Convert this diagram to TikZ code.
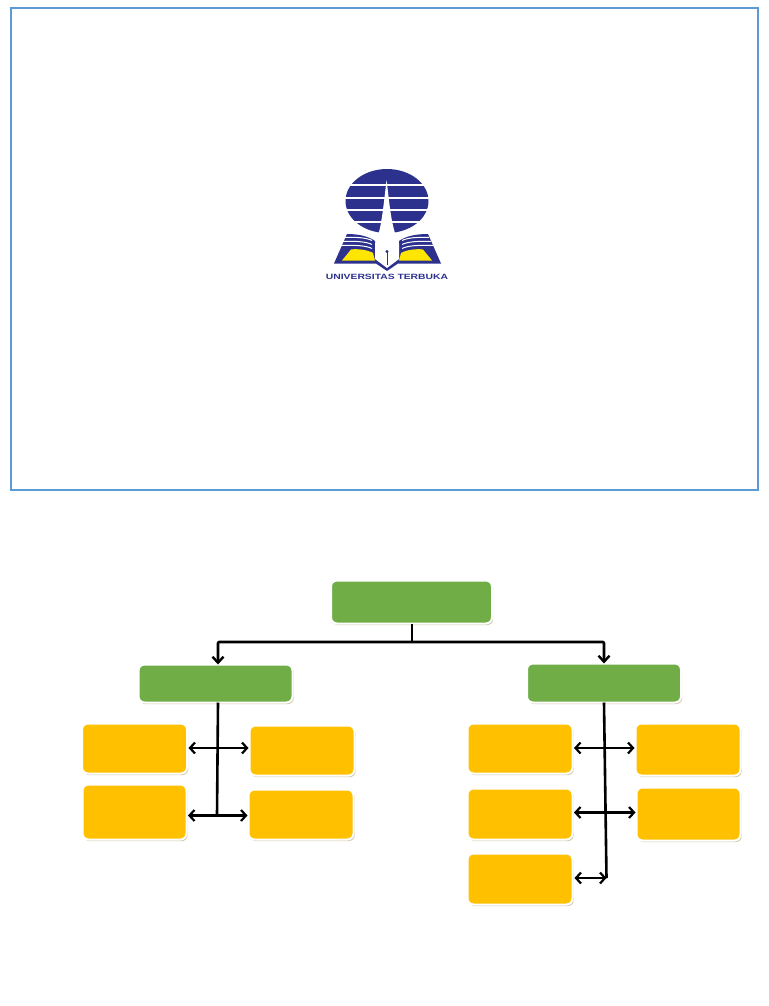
\documentclass[tikz,border=0pt]{standalone}
\usepackage{fontspec}
\newfontfamily\logofont[FakeStretch=1.36]{Liberation Sans}
\usetikzlibrary{arrows.meta,shadows}
\definecolor{framecol}{HTML}{5B9BD5}
\definecolor{greenbox}{HTML}{70AD47}
\definecolor{yellowbox}{HTML}{FFC000}
\definecolor{shadowcol}{HTML}{CFC6A8}
\definecolor{logoblue}{HTML}{2B318C}
\definecolor{logoyellow}{HTML}{FFE600}
\tikzset{
  x=1pt,y=-1pt,
  box/.style={draw=white,line width=2pt,rounded corners=6pt,inner sep=0pt,outer sep=0pt,
    drop shadow={shadow xshift=1.2pt,shadow yshift=-1.6pt,fill=shadowcol,opacity=1}},
  gbox/.style={box,fill=greenbox},
  ybox/.style={box,fill=yellowbox},
  conn/.style={line width=2.6pt,black,line join=round},
  arr/.style={conn,-{Straight Barb[length=6pt,width=11pt,line width=2.4pt]}},
  darr/.style={line width=2.4pt,black,{Straight Barb[length=5pt,width=11pt,line width=2.2pt]}-{Straight Barb[length=5pt,width=11pt,line width=2.2pt]}},
  stripe/.style={fill=white,draw=none},
}
\begin{document}
\begin{tikzpicture}
\useasboundingbox (0,0) rectangle (768,1006);
\draw[framecol,line width=1.8pt] (11,8) rectangle (758,490);

% logo
\begin{scope}
\clip (330,160) rectangle (445,234);
\fill[logoblue] (387,201) ellipse [x radius=41.5,y radius=32];
\foreach \yy in {185.3,197.6,210,222.3}{\fill[stripe] (340,\yy-0.9) rectangle (435,\yy+0.9);}
\end{scope}
\fill[white] (386.6,180) .. controls (383.5,205) and (382,222) .. (378,236) -- (396,236) .. controls (391,222) and (389.5,205) .. (386.6,180) -- cycle;
% book
\fill[logoblue] (347,234) .. controls (358,234) and (368,236) .. (375,241) -- (375,257) -- (385,262) -- (389,262) -- (399,257) -- (399,241) .. controls (406,236) and (416,234) .. (428,234) -- (441,263.5) -- (398,263.5) -- (387,271) -- (376,263.5) -- (334,263.5) -- cycle;
\fill[white] (378,237) -- (396,237) -- (399,244) -- (399,259) -- (387,268) -- (375,259) -- (375,244) -- cycle;
\draw[logoblue,line width=.9pt] (387,252) -- (387,265);
\fill[logoblue] (387,251.5) circle (1.6);
\foreach \ya/\xa/\xb in {237.5/345/372,241.5/343/372,245.5/341/372}{
  \draw[white,line width=1pt] (\xa,\ya) .. controls (355,\ya-.5) and (366,\ya) .. (\xb,\ya+3);
  \draw[white,line width=1pt] (774-\xa,\ya) .. controls (419,\ya-.5) and (408,\ya) .. (774-\xb,\ya+3);
}
\fill[logoyellow] (342,260.5) -- (351,249.5) .. controls (358,248.5) and (368,250) .. (373,253) -- (375,260.5) -- cycle;
\fill[logoyellow] (432,260.5) -- (423,249.5) .. controls (416,248.5) and (406,250) .. (401,253) -- (399,260.5) -- cycle;
\node[inner sep=0pt,text=logoblue] (logotext) at (387,276.5) {\logofont\fontsize{7.6pt}{8pt}\selectfont\bfseries UNIVERSITAS TERBUKA};

% boxes
\node[gbox,minimum width=161pt,minimum height=43pt] (top) at (411.5,602) {};
\node[gbox,minimum width=154pt,minimum height=38pt] (lg) at (215.5,683.5) {};
\node[gbox,minimum width=154pt,minimum height=39pt] (rg) at (604,683) {};
\node[ybox,minimum width=105pt,minimum height=50pt] (l1) at (134.5,748.5) {};
\node[ybox,minimum width=105pt,minimum height=50pt] (l2) at (302,750.5) {};
\node[ybox,minimum width=104pt,minimum height=55pt] (l3) at (134.5,812) {};
\node[ybox,minimum width=105pt,minimum height=50pt] (l4) at (301,814.5) {};
\node[ybox,minimum width=105pt,minimum height=50pt] (r1) at (520,748.5) {};
\node[ybox,minimum width=105pt,minimum height=52pt] (r2) at (688,749.5) {};
\node[ybox,minimum width=105pt,minimum height=51pt] (r3) at (520,814) {};
\node[ybox,minimum width=104pt,minimum height=53pt] (r4) at (688.5,814) {};
\node[ybox,minimum width=105pt,minimum height=51pt] (r5) at (520,879) {};

% coordinates
\coordinate (hj) at (412,642);
\coordinate (la) at (218,642);
\coordinate (ra) at (604,642);
\coordinate (lj1) at (217.5,748);
\coordinate (lj2) at (217,815.5);
\coordinate (rj1) at (605,748);
\coordinate (rj2) at (605.5,812.5);
\coordinate (rj3) at (606.5,878);

% connectors
\draw[conn] (top.south -| hj) -- (hj);
\draw[arr,rounded corners=1pt] (hj) -- (la) -- (la |- lg.north);
\draw[arr,rounded corners=1pt] (hj) -- (ra) -- (ra |- rg.north);
\draw[conn] (la |- lg.south) -- (lj2);
\draw[conn] (ra |- rg.south) -- (rj3);
\draw[darr] ([xshift=1.5pt]l1.east |- lj1) -- ([xshift=-1pt]l2.west |- lj1);
\draw[darr] ([xshift=1.5pt]l3.east |- lj2) -- ([xshift=-1pt]l4.west |- lj2);
\draw[darr] ([xshift=1.5pt]r1.east |- rj1) -- ([xshift=-1pt]r2.west |- rj1);
\draw[darr] ([xshift=1.5pt]r3.east |- rj2) -- ([xshift=-1pt]r4.west |- rj2);
\draw[darr] ([xshift=2pt]r5.east |- rj3) -- (rj3);
\end{tikzpicture}
\end{document}
